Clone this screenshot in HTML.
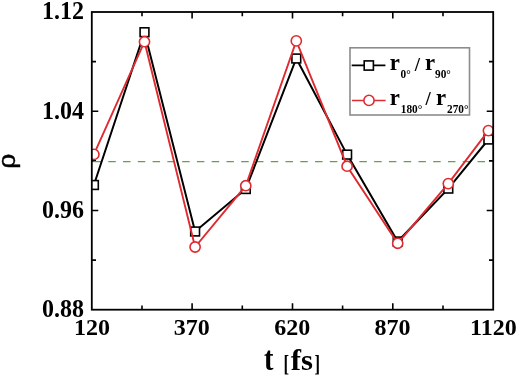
<!DOCTYPE html>
<html>
<head>
<meta charset="utf-8">
<style>
html,body{margin:0;padding:0;background:#fff;width:520px;height:377px;overflow:hidden;}
svg{display:block;}
text{font-family:"Liberation Serif","DejaVu Serif",serif;font-weight:bold;fill:#000;}
</style>
</head>
<body>
<svg width="520" height="377" viewBox="0 0 520 377">
<rect x="0" y="0" width="520" height="377" fill="#fff"/>
<defs>
<clipPath id="pc"><rect x="91.8" y="12" width="401.4" height="297.7"/></clipPath>
</defs>

<!-- ticks -->
<g stroke="#000" stroke-width="1.6">
<!-- left -->
<path d="M91.8 111.2h6.5M91.8 210.5h6.5M91.8 61.6h4.2M91.8 160.9h4.2M91.8 260.1h4.2"/>
<!-- right -->
<path d="M493.2 111.2h-6.5M493.2 210.5h-6.5M493.2 61.6h-4.2M493.2 160.9h-4.2M493.2 260.1h-4.2"/>
<!-- bottom -->
<path d="M192.1 309.7v-6.5M292.5 309.7v-6.5M392.8 309.7v-6.5M142 309.7v-4.2M242.3 309.7v-4.2M342.6 309.7v-4.2M443 309.7v-4.2"/>
<!-- top -->
<path d="M192.1 12v6.5M292.5 12v6.5M392.8 12v6.5M142 12v4.2M242.3 12v4.2M342.6 12v4.2M443 12v4.2"/>
</g>

<!-- dashed reference line -->
<line x1="93.5" y1="161.6" x2="492" y2="161.6" stroke="#66a33e" stroke-width="1.25" stroke-dasharray="7.5 7.27"/>

<g clip-path="url(#pc)">
<!-- black series -->
<polyline fill="none" stroke="#000" stroke-width="2" stroke-linejoin="miter"
 points="93.9,185 144.5,32.2 195.1,231.5 245.8,189 296.3,58.5 347.1,154.6 397.7,241.5 448.3,188.6 488.4,139.5"/>
<g fill="#fff" stroke="#000" stroke-width="1.6">
<rect x="89.5" y="180.6" width="8.8" height="8.8"/>
<rect x="140.1" y="27.8" width="8.8" height="8.8"/>
<rect x="190.7" y="227.1" width="8.8" height="8.8"/>
<rect x="241.4" y="184.6" width="8.8" height="8.8"/>
<rect x="291.9" y="54.1" width="8.8" height="8.8"/>
<rect x="342.7" y="150.2" width="8.8" height="8.8"/>
<rect x="393.3" y="237.1" width="8.8" height="8.8"/>
<rect x="443.9" y="184.2" width="8.8" height="8.8"/>
<rect x="484.0" y="135.1" width="8.8" height="8.8"/>
</g>
<!-- red series -->
<polyline fill="none" stroke="#de2a30" stroke-width="1.9" stroke-linejoin="miter"
 points="93.9,154.4 144.5,41.7 195.1,247 245.8,185.7 296.3,40.9 347.1,166.2 397.7,243.3 448.3,183.6 488.4,130.6"/>
<g fill="#fff" stroke="#de2a30" stroke-width="1.6">
<circle cx="93.9" cy="154.4" r="5.1"/>
<circle cx="144.5" cy="41.7" r="5.1"/>
<circle cx="195.1" cy="247" r="5.1"/>
<circle cx="245.8" cy="185.7" r="5.1"/>
<circle cx="296.3" cy="40.9" r="5.1"/>
<circle cx="347.1" cy="166.2" r="5.1"/>
<circle cx="397.7" cy="243.3" r="5.1"/>
<circle cx="448.3" cy="183.6" r="5.1"/>
<circle cx="488.4" cy="130.6" r="5.1"/>
</g>
</g>

<!-- frame -->
<rect x="91.8" y="12" width="401.4" height="297.7" fill="none" stroke="#000" stroke-width="1.8"/>
<!-- y tick labels -->
<g font-size="24" text-anchor="end">
<text transform="translate(84,19.2) scale(1,1.035)">1.12</text>
<text transform="translate(84,119) scale(1,1.035)">1.04</text>
<text transform="translate(84,217.5) scale(1,1.035)">0.96</text>
<text transform="translate(84,316.8) scale(1,1.035)">0.88</text>
</g>
<!-- x tick labels -->
<g font-size="24" text-anchor="middle">
<text transform="translate(91.9,335.3) scale(1,1)">120</text>
<text transform="translate(191.8,335.3) scale(1,1)">370</text>
<text transform="translate(292.3,335.3) scale(1,1)">620</text>
<text transform="translate(392.6,335.3) scale(1,1)">870</text>
<text transform="translate(493.4,335.3) scale(1,1)">1120</text>
</g>

<!-- axis titles -->
<text transform="translate(264.1,370) scale(0.98,1.13)" font-size="29">t</text>
<text transform="translate(283.4,371) scale(0.7,1)" font-size="23.8">[</text>
<text transform="translate(290.8,369.9) scale(1.06,1)" font-size="29">fs</text>
<text transform="translate(314.6,371) scale(0.7,1)" font-size="23.8">]</text>
<text transform="translate(14.7,168.8) rotate(-90) scale(1.07,1)" font-size="24.5" style="font-family:'DejaVu Serif',serif;font-weight:normal" stroke="#000" stroke-width="0.45">ρ</text>

<!-- legend -->
<rect x="350" y="47.8" width="119.5" height="67.2" fill="#fff" stroke="#8c8c8c" stroke-width="1.6"/>
<line x1="351.7" y1="65.4" x2="385.4" y2="65.4" stroke="#000" stroke-width="1.8"/>
<rect x="364.2" y="60.9" width="9.2" height="9.2" fill="#fff" stroke="#000" stroke-width="1.6"/>
<line x1="351.9" y1="100.5" x2="385.6" y2="100.5" stroke="#de2a30" stroke-width="1.7"/>
<circle cx="369" cy="100.4" r="5.1" fill="#fff" stroke="#de2a30" stroke-width="1.6"/>

<g font-size="22.7">
<text x="389.8" y="70.3">r</text>
<text x="424.9" y="70.3">r</text>
<text x="389.7" y="104.7">r</text>
<text x="435.9" y="104.7">r</text>
</g>
<g font-size="19">
<text x="414.8" y="70.8">/</text>
<text x="425.6" y="105.4">/</text>
</g>
<g font-size="11.3">
<text transform="translate(400.5,77.9) scale(1,1.12)">0°</text>
<text transform="translate(435,77.9) scale(1,1.12)">90°</text>
<text transform="translate(400.8,112.7) scale(1,1.12)">180°</text>
<text transform="translate(447,112.7) scale(1,1.12)">270°</text>
</g>
</svg>
</body>
</html>
